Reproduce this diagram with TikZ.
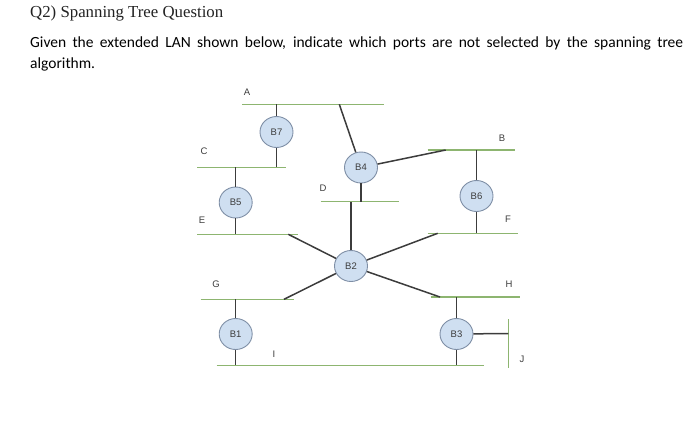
\documentclass[tikz,border=0pt]{standalone}
\usepackage{fontspec}
\usetikzlibrary{shapes.geometric}
\setmainfont{Liberation Serif}
\newfontfamily\bodyfont{Carlito}
\newfontfamily\labfont{Liberation Sans}
\definecolor{lan}{HTML}{8DB570}
\definecolor{wire}{HTML}{3C3C3C}
\definecolor{bfill}{HTML}{CFDFF1}
\definecolor{bdraw}{HTML}{7F8FA6}
\definecolor{txt}{HTML}{222222}
\begin{document}
\begin{tikzpicture}[x=1pt,y=-1pt,
  lanline/.style={draw=lan,line width=1.5pt},
  wireline/.style={draw=wire,line width=1.5pt},
  bridge/.style={ellipse,draw=bdraw,fill=bfill,line width=0.9pt,minimum width=33pt,minimum height=31pt,inner sep=0pt,font=\labfont\fontsize{9.5}{10}\selectfont,text=wire},
  lab/.style={font=\labfont\fontsize{9.5}{10}\selectfont,text=wire,inner sep=0pt}]
\useasboundingbox (0,0) rectangle (700,429);
% text
\node[anchor=base west,inner sep=0pt,text=txt,font=\fontsize{16.8}{18}\selectfont] (title) at (30,17) {Q2) Spanning Tree Question};
\node[anchor=base west,inner sep=0pt,text=black,font=\bodyfont\fontsize{15.5}{18}\selectfont] (body1) at (30,47.5) {\makebox[653pt][s]{Given the extended LAN shown below, indicate which ports are not selected by the spanning tree}};
\node[anchor=base west,inner sep=0pt,text=black,font=\bodyfont\fontsize{15.5}{18}\selectfont] (body2) at (30,68) {algorithm.};
% LAN endpoints
\coordinate (Aw) at (242,104.3); \coordinate (Ae) at (384,104.3);
\coordinate (Cw) at (197,167.3); \coordinate (Ce) at (286,167.3);
\coordinate (Ew) at (197,234.3); \coordinate (Ee) at (298,234.3);
\coordinate (Dw) at (320.7,201.7); \coordinate (De) at (399.3,201.7);
\coordinate (Bw) at (427.7,150); \coordinate (Be) at (515,150);
\coordinate (Fw) at (427.7,233.3); \coordinate (Fe) at (518.3,233.3);
\coordinate (Gw) at (200.7,299.3); \coordinate (Ge) at (294,299.3);
\coordinate (Hw) at (430.7,297); \coordinate (He) at (520,297);
\coordinate (Iw) at (216.7,365.3); \coordinate (Ie) at (484,365.3);
\coordinate (Jn) at (508.3,319.3); \coordinate (Js) at (508.3,368.3);
\foreach \p in {A,C,E,D,B,F,G,H,I} \draw[lanline] (\p w) -- (\p e);
\draw[lanline] (Jn) -- (Js);
% bridges
\node[bridge] (B7) at (276.5,132) {B7};
\node[bridge] (B5) at (235.7,202.5) {B5};
\node[bridge] (B4) at (361,167.5) {B4};
\node[bridge] (B6) at (476.5,196) {B6};
\node[bridge] (B2) at (351,266) {B2};
\node[bridge] (B1) at (235.7,334) {B1};
\node[bridge] (B3) at (456.5,334) {B3};
% ports on LANs
\coordinate (a1) at (276.5,104.3);
\coordinate (c1) at (276.5,167.3);
\coordinate (c2) at (235.7,167.3);
\coordinate (e1) at (235.7,234.3);
\coordinate (a2) at (339.3,104.3);
\coordinate (d1) at (361,201.7);
\coordinate (b1) at (445.7,150);
\coordinate (b2) at (476.5,150);
\coordinate (f1) at (476.5,233.3);
\coordinate (d2) at (351,201.7);
\coordinate (e2) at (288.3,234.3);
\coordinate (f2) at (437.7,233.3);
\coordinate (g1) at (284,299.3);
\coordinate (h1) at (440,297);
\coordinate (g2) at (235.7,299.3);
\coordinate (i1) at (235.7,365.3);
\coordinate (h2) at (456.5,297);
\coordinate (i2) at (456.5,365.3);
\coordinate (j1) at (508.3,333.5);
% connectors
\draw[wireline] (B7) -- (a1);
\draw[wireline] (B7) -- (c1);
\draw[wireline] (B5) -- (c2);
\draw[wireline] (B5) -- (e1);
\draw[wireline] (B4) -- (a2);
\draw[wireline] (B4) -- (d1);
\draw[wireline] (B4) -- (b1);
\draw[wireline] (B6) -- (b2);
\draw[wireline] (B6) -- (f1);
\draw[wireline] (B2) -- (d2);
\draw[wireline] (B2) -- (e2);
\draw[wireline] (B2) -- (f2);
\draw[wireline] (B2) -- (g1);
\draw[wireline] (B2) -- (h1);
\draw[wireline] (B1) -- (g2);
\draw[wireline] (B1) -- (i1);
\draw[wireline] (B3) -- (h2);
\draw[wireline] (B3) -- (i2);
\draw[wireline] (B3) -- (j1);
% LAN labels
\node[lab] (lA) at (247,92) {A};
\node[lab] (lC) at (204,151) {C};
\node[lab] (lE) at (202,220) {E};
\node[lab] (lD) at (323,188) {D};
\node[lab] (lB) at (502,138) {B};
\node[lab] (lF) at (508,219) {F};
\node[lab] (lG) at (216,284) {G};
\node[lab] (lH) at (509,284) {H};
\node[lab] (lI) at (274,354) {I};
\node[lab] (lJ) at (522,359) {J};
\end{tikzpicture}
\end{document}
